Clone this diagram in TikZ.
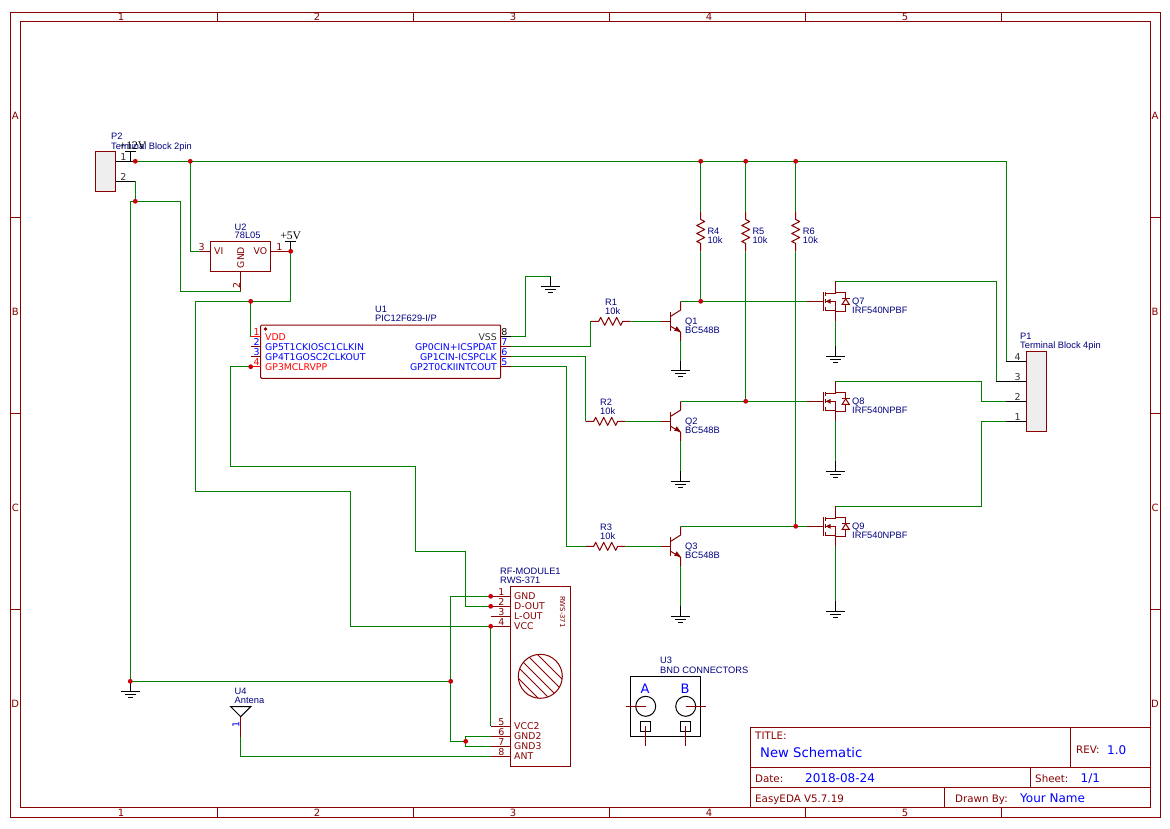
\documentclass[tikz,border=0pt]{standalone}
\usepackage{fontspec}
\setmainfont{Liberation Sans}
\newfontfamily\pinfont{DejaVu Sans}
\newfontfamily\flagfont{Liberation Serif}
\usepackage{tikz}
\definecolor{sheetred}{HTML}{880000}
\definecolor{pinred}{HTML}{FF0000}
\definecolor{wiregreen}{HTML}{008000}
\definecolor{refblue}{HTML}{000080}
\definecolor{pinblue}{HTML}{0000FF}
\definecolor{dotred}{HTML}{CC0000}
\definecolor{boxgrey}{HTML}{EEEEEE}
\tikzset{
  wire/.style={wiregreen,line width=1pt},
  part/.style={sheetred,line width=1pt},
  netline/.style={black,line width=1pt},
  reflabel/.style={refblue,font=\fontsize{9.3}{10}\selectfont,inner sep=0,anchor=base west},
  pinname/.style={font=\pinfont\fontsize{9.3}{10}\selectfont,inner sep=0,anchor=base west},
  pinnum/.style={font=\pinfont\fontsize{9.5}{10}\selectfont,inner sep=0,anchor=base},
  flagtext/.style={black,font=\flagfont\fontsize{11.6}{12}\selectfont,inner sep=0,anchor=base},
  titlekey/.style={sheetred,font=\pinfont\fontsize{10.3}{11}\selectfont,inner sep=0,anchor=base west},
  titleval/.style={pinblue,font=\pinfont\fontsize{12}{13}\selectfont,inner sep=0,anchor=base west},
  ruler/.style={sheetred,font=\pinfont\fontsize{10}{11}\selectfont,inner sep=0}
}
\begin{document}
\begin{tikzpicture}[x=1pt,y=-1pt]
        \useasboundingbox[fill=white] (0,0) rectangle (1170,828);
        % sheet frame and title block
        \draw[part] (10.3,12) rectangle (1160,817.3);
        \draw[part] (20.3,21.7) rectangle (1150,807);
        \foreach \x in {217,413,609,805,1001}
        {
          \draw[part] (\x,12) -- (\x,21.7);
          \draw[part] (\x,807) -- (\x,817.3);
        }
        \foreach \y in {217,413,609}
        {
          \draw[part] (10.3,\y) -- (20.3,\y);
          \draw[part] (1150,\y) -- (1160,\y);
        }
        \foreach \n/\x in {1/121,2/317,3/513,4/709,5/905}
        {
          \node[ruler] (colT\n) at (\x,17) {\n};
          \node[ruler] (colB\n) at (\x,812.5) {\n};
        }
        \foreach \n/\y in {A/116,B/312,C/508,D/704}
        {
          \node[ruler] (rowL\n) at (15.3,\y) {\n};
          \node[ruler] (rowR\n) at (1155,\y) {\n};
        }
        \draw[part] (750,727.7) rectangle (1150,807);
        \draw[part] (750,767.7) -- (1150,767.7);
        \draw[part] (750,787.5) -- (1150,787.5);
        \draw[part] (1070,727.7) -- (1070,767.7);
        \draw[part] (1030,767.7) -- (1030,787.5);
        \draw[part] (944.5,787.5) -- (944.5,807);
        \foreach \n/\x/\y/\t in {tTitle/755/739.5/TITLE:,tRev/1076/753.5/REV:,tDate/755/782/Date:,tSheet/1035/782/Sheet:,tVer/755/802/EasyEDA V5.7.19,tBy/955/802/Drawn By:}
          \node[titlekey] (\n) at (\x,\y) {\t};
        \node[titleval,font=\pinfont\fontsize{13.2}{14}\selectfont] (vTitle) at (760,757.5) {New Schematic};
        \foreach \n/\x/\y/\t in {vRev/1107/754.5/1.0,vDate/805/782/2018-08-24,vSheet/1080.5/782/{1/1},vBy/1020/802/Your Name}
          \node[titleval] (\n) at (\x,\y) {\t};

        % connection points
        \foreach \n/\x/\y in {J1/135.3/161.3,J2/190.3/161.3,J3/700.7/161.3,J4/745.7/161.3,J5/795.7/161.3,
          J6/700.7/301.3,J7/745.7/401.3,J8/795.7/526.3,J9/135.3/201.3,J10/130.3/681.3,J11/450.7/681.3,
          J12/490.7/596.3,J14/465.7/741.3,J15/290.7/251.3,J16/250.7/301.3,J17/490.7/626.3,J18/250.7/366.7,J19/490.7/606.3,
          K1/981/401.3,K2/981/421.3,K3/566/546.3,K4/525.7/276.7,K5/180.3/291.3,K6/450.7/741.3,K7/195.3/301.3,
          K8/350.7/491.3,K9/230.7/466.3,K10/415.5/551.5,K11/465.7/606.3,
          P2p1/115.7/161.3,P2p2/135.3/181.3,P1p4/1006/361.3,P1p3/996/381.3,P1p2/1006/401.3,P1p1/1006/421.3,
          U2p3/200/251.3,U2p2/240.7/291.3,Up8/510.7/336.7,Up7/510.7/346.7,Up6/510.7/356.7,Up5/510.7/366.7,Up1/250.7/336.7,
          Mp5/490.7/726.3,Mp6/490.7/736.3,Mp7/490.7/746.3,Mp8/490.7/756.3,Ant/240.7/736.7}
          \coordinate (\n) at (\x,\y);

        % resistors
        \foreach \n/\x/\y/\a in {R1/610.7/321.3/0,R2/605.7/421.3/0,R3/605.7/546.3/0,R4/700.7/231.5/-90,R5/745.7/231.5/-90,R6/795.7/231.5/-90}
        {
          \begin{scope}[shift={(\x,\y)},rotate=\a]
            \coordinate (\n-a) at (-20,0);
            \coordinate (\n-b) at (20,0);
            \draw[part,line join=round] (\n-a) -- (-12,0) -- (-10,-4) -- (-6,4) -- (-2,-4) -- (2,4) -- (6,-4) -- (10,4) -- (12,0) -- (\n-b);
          \end{scope}
        }
        % transistors
        \foreach \n/\y in {1/321.3,2/421.3,3/546.3}
        {
          \begin{scope}[shift={(670.7,\y)}]
            \coordinate (Q\n-b) at (-10,0);
            \coordinate (Q\n-c) at (10,-20);
            \coordinate (Q\n-e) at (10,20);
            \draw[part] (Q\n-b) -- (0,0);
            \draw[part,line width=1.3pt] (0,-9.3) -- (0,9.7);
            \draw[part] (0,-5) -- (10,-11.3) -- (Q\n-c);
            \draw[part] (0,5) -- (10,11) -- (Q\n-e);
            \fill[sheetred] (10,10.5) -- (3.5,9.5) -- (6,5) -- cycle;
          \end{scope}
        }
        % mosfets
        \foreach \n/\y in {7/301.3,8/401.3,9/526.3}
        {
          \begin{scope}[shift={(835.7,\y)}]
            \coordinate (Q\n-b) at (-29,0);
            \coordinate (Q\n-c) at (0,-20);
            \coordinate (Q\n-e) at (0,20);
            \draw[part] (Q\n-b) -- (-12.5,0);
            \draw[part] (-12.5,-9) -- (-12.5,9.7);
            \draw[part] (-10.3,-9) -- (-10.3,-5);
            \draw[part] (-10.3,-2) -- (-10.3,2);
            \draw[part] (-10.3,5.5) -- (-10.3,9.7);
            \draw[part] (-10.3,-7.5) -- (0,-7.5);
            \draw[part] (Q\n-c) -- (0,-9) -- (10,-9) -- (10,10.5) -- (0,10.5);
            \draw[part] (-10.3,9) -- (0,9) -- (Q\n-e);
            \draw[part] (-10.3,0) -- (0,0) -- (0,9);
            \fill[sheetred] (-10,0) -- (-5,-2.5) -- (-5,2.5) -- cycle;
            \draw[part,fill=white] (10,-2.5) -- (6.5,3) -- (13.5,3) -- cycle;
            \draw[part] (6,-2.5) -- (14,-2.5);
          \end{scope}
        }
        % grounds
        \foreach \n/\x/\y in {GU/550.7/286.7,GP/130.3/691.3,GQ1/680.7/370.7,GQ2/680.7/481.3,GQ3/680.7/616.3,GQ7/835.7/356,GQ8/835.7/471,GQ9/835.7/611}
        {
          \coordinate (\n) at (\x,\y-10);
          \draw[netline] (\n) -- (\x,\y);
          \draw[netline] (\x-9.5,\y) -- (\x+9.5,\y);
          \draw[netline] (\x-5.5,\y+3) -- (\x+5.5,\y+3);
          \draw[netline] (\x-2.5,\y+6) -- (\x+2.5,\y+6);
        }

        % P2 and P1
        \draw[part,fill=boxgrey] (95.3,151.5) rectangle (115.7,191.3);
        \draw[netline] (P2p1) -- (J1);
        \draw[netline] (115.7,181.3) -- (P2p2);
        \draw[netline] (130.7,161.3) -- (130.7,151.7);
        \draw[netline] (125.3,151.7) -- (136,151.7);
        \draw[part,fill=boxgrey] (1026,351.7) rectangle (1046,431);
        \foreach \n in {1,2,3,4}
          \draw[netline] (P1p\n) -- (1026,441.3-20*\n);
        % U2
        \draw[part] (210.3,241.3) rectangle (270.7,271.3);
        \draw[part] (U2p3) -- (210.3,251.3);
        \draw[part] (270.7,251.3) -- (J15);
        \draw[part] (240.7,271.3) -- (U2p2);
        \draw[netline] (J15) -- (290.7,241.3);
        \draw[netline] (285.3,241.3) -- (296,241.3);
        % U1
        \draw[part,rounded corners=1pt] (260.7,325) rectangle (500.7,378.3);
        \fill[sheetred] (265.5,329) circle (1.8pt);
        \draw[pinred,line width=1pt] (Up1) -- (260.7,336.7);
        \draw[part] (250.7,346.7) -- (260.7,346.7);
        \draw[part] (250.7,356.7) -- (260.7,356.7);
        \draw[pinred,line width=1pt] (J18) -- (260.7,366.7);
        \draw[netline] (500.7,336.7) -- (Up8);
        \foreach \n in {5,6,7}
          \draw[part] (500.7,416.7-10*\n) -- (Up\n);
        % RF module
        \draw[part] (510.7,586.7) rectangle (570.7,766.3);
        \foreach \a in {J12,J19,J17}
          \draw[part] (\a) -- (510.7,0 |- \a);
        \draw[part] (490.7,616.3) -- (510.7,616.3);
        \foreach \n in {5,6,7,8}
          \draw[part] (Mp\n) -- (510.7,0 |- Mp\n);
        \draw[part] (540.3,676.3) circle (22pt);
        \begin{scope}
          \clip (540.3,676.3) circle (22pt);
          \foreach \d in {-24,-13,-3,8,19}
            \draw[part] (540.3-30+\d,676.3-30) -- (540.3+30+\d,676.3+30);
        \end{scope}
        % U3
        \draw[black,line width=1pt] (630.7,676.7) rectangle (700.7,736);
        \foreach \x in {645.7,685.7}
        {
          \draw[black,line width=1pt] (\x,706.3) circle (10pt);
          \draw[black,line width=1pt] (\x-5,721) rectangle (\x+5,731);
          \draw[part] (\x,726) -- (\x,746);
        }
        \draw[part] (625.7,706.3) -- (645.7,706.3);
        \draw[part] (685.7,706.3) -- (705.7,706.3);
        % U4
        \draw[netline] (230.7,706.7) -- (250.7,706.7) -- (240.7,716.7) -- cycle;
        \draw[part] (240.7,716.7) -- (Ant);

        % wires
        \draw[wire] (J1) -- (J2) -- (J3) -- (J4) -- (J5) -| (P1p4);
        \draw[wire] (J2) |- (U2p3);
        \draw[wire] (P2p2) -- (J9);
        \draw[wire] (J9) -| (K5) -- (U2p2);
        \draw[wire] (J9) -| (J10);
        \draw[wire] (J10) -- (J11);
        \draw[wire] (J15) |- (K7) |- (K8) |- (J17);
        \draw[wire] (J16) -- (Up1);
        \draw[wire] (J18) -| (K9) -| (K10) -| (K11) -- (J19);
        \draw[wire] (Up8) -| (K4) -- (GU);
        \draw[wire] (Up7) -| (R1-a);
        \draw[wire] (Up6) -| (R2-a);
        \draw[wire] (Up5) -| (K3) -- (R3-a);
        \foreach \n in {1,2,3}
          \draw[wire] (R\n-b) -- (Q\n-b);
        \foreach \n/\y in {4/3,5/4,6/5}
          \draw[wire] (J\y) -- (R\n-a);
        \draw[wire] (R4-b) -- (J6);
        \draw[wire] (R5-b) -- (J7);
        \draw[wire] (R6-b) -- (J8);
        \draw[wire] (Q1-c) -- (J6) -- (Q7-b);
        \draw[wire] (Q2-c) -- (J7) -- (Q8-b);
        \draw[wire] (Q3-c) -- (J8) -- (Q9-b);
        \foreach \n in {1,2,3,7,8,9}
          \draw[wire] (Q\n-e) -- (GQ\n);
        \draw[wire] (J10) -- (GP);
        \draw[wire] (Q7-c) -| (P1p3);
        \draw[wire] (Q8-c) -| (K1) -- (P1p2);
        \draw[wire] (Q9-c) -| (K2) -- (P1p1);
        \draw[wire] (J12) -| (K6) -- (J14);
        \draw[wire] (J14) |- (Mp6);
        \draw[wire] (J14) |- (Mp7);
        \draw[wire] (J17) -- (Mp5);
        \draw[wire] (Ant) |- (Mp8);
        \foreach \n in {J1,J2,J3,J4,J5,J6,J7,J8,J9,J10,J11,J12,J14,J15,J16,J17,J18,J19}
          \fill[dotred] (\n) circle (2.4pt);

        % labels
        \foreach \n/\x/\y/\t in {lP2/111/139.3/P2,vP2/111/149/Terminal Block 2pin,lU2/234.5/230/U2,vU2/234.5/238.7/78L05,
          lU1/375/312.3/U1,vU1/375/321.7/{PIC12F629-I/P},lP1/1020/339/P1,vP1/1020/348.3/Terminal Block 4pin,
          lRF/500/574.3/RF-MODULE1,vRF/500/583.7/RWS-371,lU3/660/663.7/U3,vU3/660/673.3/BND CONNECTORS,
          lU4/234.5/694.3/U4,vU4/234.5/703.7/Antena,
          lQ1/685/324.3/Q1,vQ1/685/333.3/BC548B,lQ2/685/424.3/Q2,vQ2/685/433.3/BC548B,lQ3/685/549.3/Q3,vQ3/685/558.3/BC548B,
          lQ7/852/304.3/Q7,vQ7/852/313.3/IRF540NPBF,lQ8/852/404.3/Q8,vQ8/852/413.3/IRF540NPBF,lQ9/852/529.3/Q9,vQ9/852/538.3/IRF540NPBF,
          lR4/707.3/234/R4,vR4/707.3/243.3/10k,lR5/752.3/234/R5,vR5/752.3/243.3/10k,lR6/802.7/234/R6,vR6/802.7/243.3/10k,
          lR1/605/305/R1,vR1/605/314.3/10k,lR2/600/405/R2,vR2/600/414.3/10k,lR3/600/530/R3,vR3/600/539.3/10k}
          \node[reflabel] (\n) at (\x,\y) {\t};
        \node[flagtext] (flag12) at (133,149) {+12V};
        \node[flagtext] (flag5) at (290.7,239.3) {+5V};
        \foreach \n/\y/\c/\t in {a1/340.3/pinred/VDD,a2/350.3/pinblue/GP5T1CKIOSC1CLKIN,a3/360.3/pinblue/GP4T1GOSC2CLKOUT,a4/370/pinred/GP3MCLRVPP}
          \node[pinname,text=\c] (\n) at (265,\y) {\t};
        \foreach \n/\y/\c/\t in {a8/340.3/black!80/VSS,a7/350.3/pinblue/GP0CIN+ICSPDAT,a6/360.3/pinblue/GP1CIN-ICSPCLK,a5/370/pinblue/GP2T0CKIINTCOUT}
          \node[pinname,anchor=base east,text=\c] (\n) at (497,\y) {\t};
        \foreach \n/\y/\t in {m1/599.3/GND,m2/609.3/D-OUT,m3/619.3/L-OUT,m4/629.3/VCC,m5/729.3/VCC2,m6/739.3/GND2,m7/749.3/GND3,m8/759.3/ANT}
          \node[pinname,text=sheetred] (\n) at (514,\y) {\t};
        \foreach \n/\y in {1/595.3,2/605.3,3/615.3,4/625.3,5/725.3,6/735.3,7/745.3,8/755.3}
          \node[pinnum,text=sheetred] (mn\n) at (501.3,\y) {\n};
        \foreach \n/\y/\c in {1/335.7/pinred,2/345.3/pinblue,3/355.3/pinblue,4/365.3/pinred}
          \node[pinnum,text=\c] (an\n) at (256.7,\y) {\n};
        \foreach \n/\y/\c in {8/335.7/black,7/345.3/pinblue,6/355.3/pinblue,5/365.3/pinblue}
          \node[pinnum,text=\c] (an\n) at (504.3,\y) {\n};
        \foreach \n/\y in {1/160,2/180.7}
          \node[pinnum,text=black!80] (pa\n) at (123.3,\y) {\n};
        \foreach \n/\y in {4/360.7,3/380.7,2/400.7,1/420.7}
          \node[pinnum,text=black!80] (pb\n) at (1017.7,\y) {\n};
        \node[pinnum,text=sheetred] (un3) at (201.7,250.7) {3};
        \node[pinnum,text=sheetred] (un1) at (279.3,250.7) {1};
        \node[pinnum,text=sheetred,anchor=center,rotate=90] (un2) at (236.7,285.7) {2};
        \node[pinname,text=sheetred] (uVI) at (214,254.3) {VI};
        \node[pinname,text=sheetred,anchor=base east] (uVO) at (267.3,254.3) {VO};
        \node[pinname,text=sheetred,anchor=center,rotate=90] (uGND) at (240.7,257.5) {GND};
        \node[pinnum,text=pinblue,anchor=center,rotate=90] (an) at (236,724.3) {1};
        \node[text=sheetred,font=\pinfont\fontsize{6.9}{7}\selectfont,inner sep=0,rotate=-90] (mName) at (562.7,612) {RWS-371};
        \node[pinblue,font=\pinfont\fontsize{13}{14}\selectfont,inner sep=0] (bA) at (645,689) {A};
        \node[pinblue,font=\pinfont\fontsize{13}{14}\selectfont,inner sep=0] (bB) at (685,689) {B};
      \end{tikzpicture}
\end{document}
